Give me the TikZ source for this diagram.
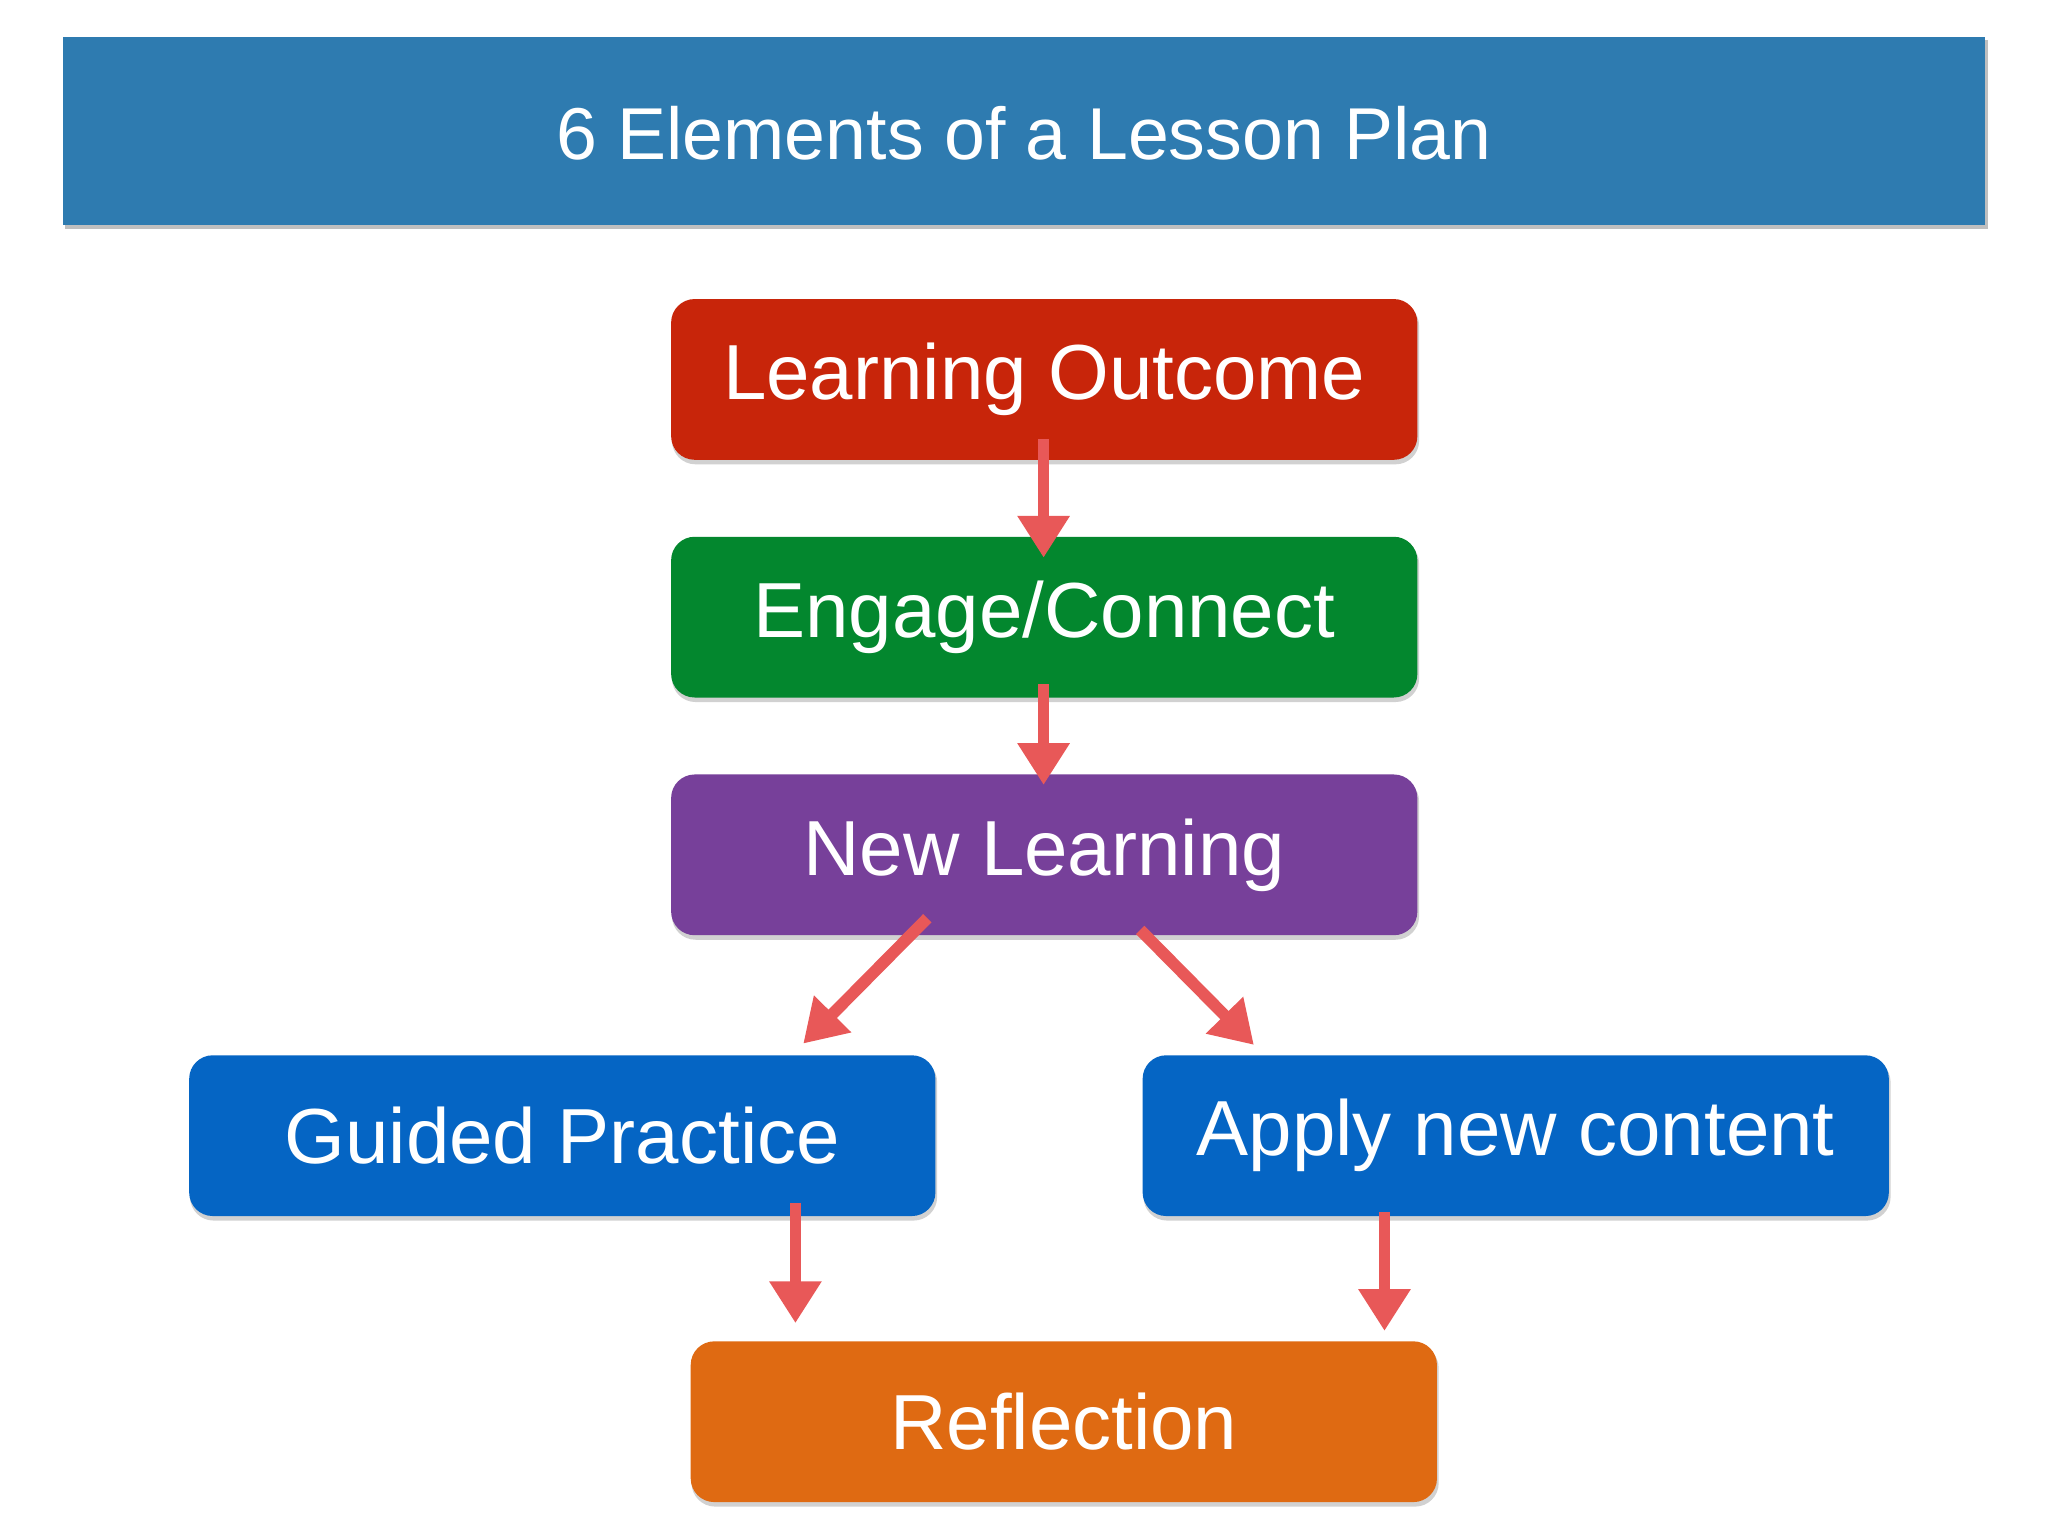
\documentclass[tikz,border=0pt]{standalone}
\usepackage{fontspec}
\setmainfont{Liberation Sans}
\usetikzlibrary{arrows.meta}
\definecolor{banner}{HTML}{2E7BB0}
\definecolor{cred}{HTML}{C8250A}
\definecolor{cgreen}{HTML}{03872E}
\definecolor{cpurple}{HTML}{77409A}
\definecolor{cblue}{HTML}{0565C4}
\definecolor{corange}{HTML}{DF6A12}
\definecolor{carrow}{HTML}{E85858}
\tikzset{
  box/.style={rounded corners=0.18cm, minimum width=5.71cm, minimum height=1.23cm, text=white, font=\fontsize{17}{20}\selectfont, inner sep=0pt},
  shad/.style={fill=black!18, rounded corners=0.18cm},
  arr/.style={draw=carrow, line width=0.09cm, -{Triangle[length=0.32cm,width=0.38cm]}}
}
\begin{document}
\begin{tikzpicture}[x=0.01cm,y=-0.01cm]
\useasboundingbox (0,0) rectangle (1568,1176);
\fill[white] (0,0) rectangle (1568,1176);
\fill[black!25] (50,31) rectangle (1522,175);
\fill[banner] (48,28) rectangle (1520,172);
\node[text=white, font=\fontsize{16}{19}\selectfont] (title) at (784,102) {6 Elements of a Lesson Plan};
\foreach \x/\y in {799.5/290.5, 799.5/472.5, 799.5/654.5, 430.5/869.5, 1160.5/869.5, 814.5/1088.5}
  \fill[shad] (\x-285,\y-59) rectangle (\x+287,\y+65);
\node[box, fill=cred] (lo) at (799.5,290.5) {Learning Outcome};
\node[box, fill=cgreen] (ec) at (799.5,472.5) {Engage/Connect};
\node[box, fill=cpurple] (nl) at (799.5,654.5) {New Learning};
\node[box, fill=cblue] (gp) at (430.5,869.5) {Guided Practice};
\node[box, fill=cblue] (an) at (1160.5,869.5) {\raisebox{-0.1cm}{Apply new content}};
\node[box, fill=corange] (rf) at (814.5,1088.5) {Reflection};
\coordinate (a1s) at (799,336); \coordinate (a1e) at (799,427);
\coordinate (a2s) at (799,524); \coordinate (a2e) at (799,601);
\coordinate (a3s) at (710,703); \coordinate (a3e) at (615,799);
\coordinate (a4s) at (873,712); \coordinate (a4e) at (960,800);
\coordinate (a5s) at (609,921); \coordinate (a5e) at (609,1013);
\coordinate (a6s) at (1060,928); \coordinate (a6e) at (1060,1019);
\draw[arr] (a1s) -- (a1e);
\draw[arr] (a2s) -- (a2e);
\draw[arr] (a3s) -- (a3e);
\draw[arr] (a4s) -- (a4e);
\draw[arr] (a5s) -- (a5e);
\draw[arr] (a6s) -- (a6e);
\end{tikzpicture}
\end{document}
